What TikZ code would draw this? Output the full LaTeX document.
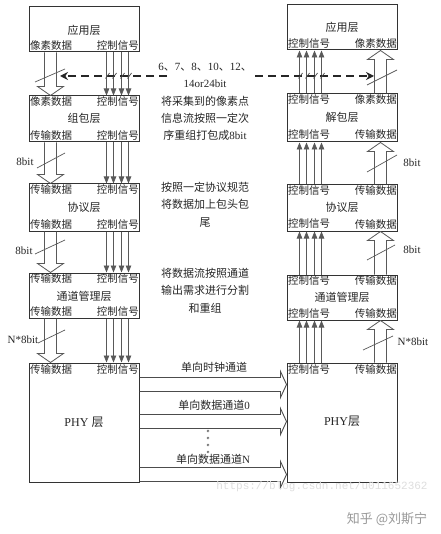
\documentclass[tikz,border=0pt]{standalone}
\usepackage{fontspec}
\setmainfont{Liberation Serif}
\newfontfamily\cjk{Noto Sans CJK SC}
\newfontfamily\monofnt{Liberation Mono}
\usetikzlibrary{calc,arrows.meta}
\tikzset{
  box/.style={draw=black!80, line width=1pt, minimum width=110pt, inner sep=0pt},
  lab/.style={font=\cjk\fontsize{10.5}{12}\selectfont, inner sep=0.5pt, text=black!85},
  ttl/.style={font=\cjk\fontsize{11}{12}\selectfont, inner sep=0.5pt, text=black!85},
  desc/.style={align=center, font=\fontsize{11}{17.3}\selectfont, inner sep=0pt, text=black!85},
  bitlab/.style={font=\fontsize{11}{12}\selectfont, inner sep=0.5pt, text=black!85},
  ctrl/.style={draw=black!65, line width=0.8pt, -{Triangle[length=7pt,width=5.5pt]}},
  hol/.style={draw=black!65, line width=0.8pt},
  sl/.style={draw=black!65, line width=0.7pt},
  tk/.style={draw=black!70, line width=0.7pt},
  dsh/.style={draw=black!85, line width=1.6pt, dash pattern=on 8pt off 5pt, -{Stealth[length=8pt,width=8pt]}},
  chl/.style={draw=black!70, line width=0.9pt},
}
% hollow arrow, pointing down (#1 start, #2 tip)
\newcommand\holdown[2]{\draw[hol] let \p1=(#1), \p2=(#2) in
  (\x1-6pt,\y1) -- (\x1-6pt,\y2+9pt) -- (\x1-13pt,\y2+9pt) -- (\x2,\y2)
  -- (\x1+13pt,\y2+9pt) -- (\x1+6pt,\y2+9pt) -- (\x1+6pt,\y1);}
% hollow arrow, pointing up
\newcommand\holup[2]{\draw[hol] let \p1=(#1), \p2=(#2) in
  (\x1-6pt,\y1) -- (\x1-6pt,\y2-9pt) -- (\x1-13pt,\y2-9pt) -- (\x2,\y2)
  -- (\x1+13pt,\y2-9pt) -- (\x1+6pt,\y2-9pt) -- (\x1+6pt,\y1);}
\newcommand\chan[1]{\draw[chl] ($(L5.north east)+(0,#1-7)$) -- ($(R5.north west)+(-6,#1-7)$)
  -- ++(0,-6) -- ++(6,13) -- ++(-6,13) -- ++(0,-6) -- ($(L5.north east)+(0,#1+7)$);}
\begin{document}
\begin{tikzpicture}[x=1pt,y=-1pt]
\path[fill=white] (0,0) rectangle (440,534);
\useasboundingbox (0,0) rectangle (440,534);

% ---------- left column boxes ----------
\node[box, minimum height=45pt] (L1) at (84,29.5) {};
\node[box, minimum height=46pt] (L2) at (84,119) {};
\node[box, minimum height=47pt] (L3) at (84,207.5) {};
\node[box, minimum height=45pt] (L4) at (84,295.5) {};
\node[box, minimum height=119pt] (L5) at (84,422.5) {};

% ---------- right column boxes ----------
\node[box, minimum height=45pt] (R1) at (342,27.5) {};
\node[box, minimum height=48pt] (R2) at (342,118) {};
\node[box, minimum height=46pt] (R3) at (342,208) {};
\node[box, minimum height=45pt] (R4) at (342,297.5) {};
\node[box, minimum height=119pt] (R5) at (342,422.5) {};

% ---------- left labels ----------
\node[ttl] (L1t) at (84,30) {应用层};
\node[lab, anchor=west] (L1a) at ($(L1.south west)+(1,-6.5)$) {像素数据};
\node[lab, anchor=east] (L1b) at ($(L1.south east)+(0,-6.5)$) {控制信号};

\node[lab, anchor=west] (L2a) at ($(L2.north west)+(1,6)$) {像素数据};
\node[lab, anchor=east] (L2b) at ($(L2.north east)+(0,6)$) {控制信号};
\node[ttl] (L2t) at (84,118) {组包层};
\node[lab, anchor=west] (L2c) at ($(L2.south west)+(1,-7)$) {传输数据};
\node[lab, anchor=east] (L2d) at ($(L2.south east)+(0,-7)$) {控制信号};

\node[lab, anchor=west] (L3a) at ($(L3.north west)+(1,6.5)$) {传输数据};
\node[lab, anchor=east] (L3b) at ($(L3.north east)+(0,6.5)$) {控制信号};
\node[ttl] (L3t) at (84,207) {协议层};
\node[lab, anchor=west] (L3c) at ($(L3.south west)+(1,-7)$) {传输数据};
\node[lab, anchor=east] (L3d) at ($(L3.south east)+(0,-7)$) {控制信号};

\node[lab, anchor=west] (L4a) at ($(L4.north west)+(1,6.5)$) {传输数据};
\node[lab, anchor=east] (L4b) at ($(L4.north east)+(0,6.5)$) {控制信号};
\node[ttl] (L4t) at (84,296) {通道管理层};
\node[lab, anchor=west] (L4c) at ($(L4.south west)+(1,-7)$) {传输数据};
\node[lab, anchor=east] (L4d) at ($(L4.south east)+(0,-7)$) {控制信号};

\node[lab, anchor=west] (L5a) at ($(L5.north west)+(1,7)$) {传输数据};
\node[lab, anchor=east] (L5b) at ($(L5.north east)+(0,7)$) {控制信号};
\node[font=\fontsize{12}{13}\selectfont, text=black!85] (L5t) at (84,422) {PHY {\cjk 层}};

% ---------- right labels ----------
\node[ttl] (R1t) at (342,27) {应用层};
\node[lab, anchor=west] (R1a) at ($(R1.south west)+(1,-6.5)$) {控制信号};
\node[lab, anchor=east] (R1b) at ($(R1.south east)+(0,-6.5)$) {像素数据};

\node[lab, anchor=west] (R2a) at ($(R2.north west)+(1,6.5)$) {控制信号};
\node[lab, anchor=east] (R2b) at ($(R2.north east)+(0,6.5)$) {像素数据};
\node[ttl] (R2t) at (342,117) {解包层};
\node[lab, anchor=west] (R2c) at ($(R2.south west)+(1,-8)$) {控制信号};
\node[lab, anchor=east] (R2d) at ($(R2.south east)+(0,-8)$) {传输数据};

\node[lab, anchor=west] (R3a) at ($(R3.north west)+(1,6.5)$) {控制信号};
\node[lab, anchor=east] (R3b) at ($(R3.north east)+(0,6.5)$) {传输数据};
\node[ttl] (R3t) at (342,207) {协议层};
\node[lab, anchor=west] (R3c) at ($(R3.south west)+(1,-8)$) {控制信号};
\node[lab, anchor=east] (R3d) at ($(R3.south east)+(0,-7)$) {传输数据};

\node[lab, anchor=west] (R4a) at ($(R4.north west)+(1,6.5)$) {控制信号};
\node[lab, anchor=east] (R4b) at ($(R4.north east)+(0,6.5)$) {传输数据};
\node[ttl] (R4t) at (342,297) {通道管理层};
\node[lab, anchor=west] (R4c) at ($(R4.south west)+(1,-7)$) {控制信号};
\node[lab, anchor=east] (R4d) at ($(R4.south east)+(0,-7)$) {传输数据};

\node[lab, anchor=west] (R5a) at ($(R5.north west)+(1,7)$) {控制信号};
\node[lab, anchor=east] (R5b) at ($(R5.north east)+(0,7)$) {传输数据};
\node[font=\fontsize{12}{13}\selectfont, text=black!85] (R5t) at (342,421) {PHY{\cjk 层}};

% ---------- left downward arrows ----------
\foreach \a/\b in {L1/L2,L2/L3,L3/L4,L4/L5}{
  \holdown{$(\a.south west)+(22,0)$}{$(\b.north west)+(22,0)$}
  \foreach \dx in {78,85,93,100}
    \draw[ctrl] ($(\a.south west)+(\dx,0)$) -- ($(\b.north west)+(\dx,0)$);
}
% ---------- right upward arrows ----------
\foreach \a/\b in {R2/R1,R3/R2,R4/R3,R5/R4}{
  \holup{$(\a.north west)+(94,0)$}{$(\b.south west)+(94,0)$}
  \foreach \dx in {13,20,28,35}
    \draw[ctrl] ($(\a.north west)+(\dx,0)$) -- ($(\b.south west)+(\dx,0)$);
}

% ---------- dashed arrows and bit width text ----------
\node[font=\fontsize{11}{12}\selectfont, text=black!85, inner sep=0pt] (bw1) at (205,67)
  {6{\cjk 、}7{\cjk 、}8{\cjk 、}10{\cjk 、}12{\cjk 、}};
\node[font=\fontsize{11}{12}\selectfont, text=black!85, inner sep=0pt] (bw2) at (205,84) {14or24bit};
\coordinate (dLs) at (167,76);
\coordinate (dLe) at (60,76);
\coordinate (dRs) at (255,76);
\coordinate (dRe) at (374,76);
\draw[dsh] (dLs) -- (dLe);
\draw[dsh] (dRs) -- (dRe);
\foreach \x in {107,114,122,129,300,307,315,322}
  \draw[tk] (\x-1.5,78.5) -- (\x+2.5,73);

% ---------- slashes and bit labels ----------
\draw[sl] (35,82) -- (65,69);
\draw[sl] (367,85) -- (397,70);
\node[bitlab] (b1) at (25,162) {8bit};
\draw[sl] (37,168) -- (65,153);
\node[bitlab] (b2) at (24,251) {8bit};
\draw[sl] (35,254) -- (65,240);
\node[bitlab] (b3) at (23,340) {N*8bit};
\draw[sl] (38,343) -- (65,330);
\node[bitlab] (b4) at (412,163) {8bit};
\draw[sl] (367,172) -- (397,155);
\node[bitlab] (b5) at (412,250) {8bit};
\draw[sl] (367,260) -- (395,245);
\node[bitlab] (b6) at (413,342) {N*8bit};
\draw[sl] (363,350) -- (393,336);

% ---------- descriptions ----------
\node[desc] (D1) at (205,118.5) {{\cjk 将采集到的像素点}\\{\cjk 信息流按照一定次}\\{\cjk 序重组打包成}8bit};
\node[desc] (D2) at (205,204.5) {{\cjk 按照一定协议规范}\\{\cjk 将数据加上包头包}\\{\cjk 尾}};
\node[desc] (D3) at (205,290.5) {{\cjk 将数据流按照通道}\\{\cjk 输出需求进行分割}\\{\cjk 和重组}};

% ---------- channels ----------
\chan{22}
\chan{59}
\chan{112}
\node[ttl] (c1) at (214,367) {单向时钟通道};
\node[ttl, font=\fontsize{11}{12}\selectfont] (c2) at (214,405) {{\cjk 单向数据通道}0};
\node[ttl, font=\fontsize{11}{12}\selectfont] (c3) at (213,459) {{\cjk 单向数据通道}N};
\foreach \yy in {431,438,445,452}
  \draw[black!60, line width=0.5pt] (208,\yy) circle (1.1pt);

% ---------- watermarks ----------
\node[font=\monofnt\fontsize{11}{12}\selectfont, text=black!13, inner sep=0pt] (wm1) at (322,487) {https://blog.csdn.net/u011652362};
\node[font=\cjk\fontsize{13}{14}\selectfont, text=black!40, inner sep=0pt] (wm2) at (387,519) {知乎 @刘斯宁};
\end{tikzpicture}
\end{document}
